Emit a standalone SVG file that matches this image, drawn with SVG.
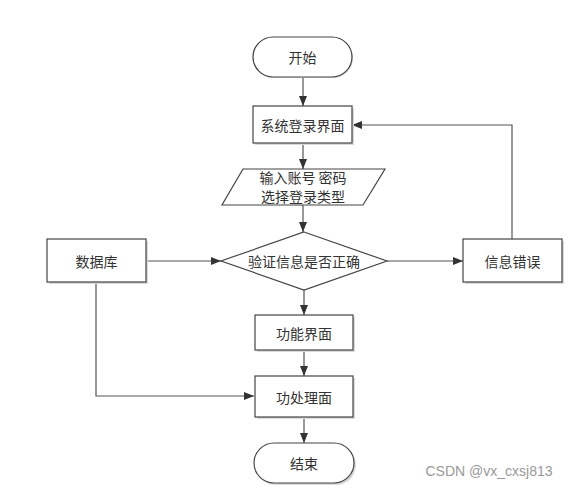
<svg xmlns="http://www.w3.org/2000/svg" width="574" height="489" viewBox="0 0 574 489">
<style>
.s{fill:#fff;stroke:#444;stroke-width:1.2}
.sh{fill:#d9d9d9;stroke:none}
.t{font-family:"Noto Sans CJK SC","Noto Sans",sans-serif;font-size:14px;fill:#333;text-anchor:middle;dominant-baseline:central}
.c{fill:none;stroke:#555;stroke-width:1.2}
</style>
<defs>
<marker id="a" markerWidth="10" markerHeight="8" refX="10" refY="4" orient="auto" markerUnits="userSpaceOnUse">
<path d="M0,0 L10,4 L0,8 Z" fill="#333"/>
</marker>
</defs>
<rect width="574" height="489" fill="#fff"/>
<g id="connectors">
<line class="c" x1="303" y1="77" x2="303" y2="106" marker-end="url(#a)"/>
<line class="c" x1="303" y1="143" x2="303" y2="169" marker-end="url(#a)"/>
<line class="c" x1="303" y1="205" x2="303" y2="232" marker-end="url(#a)"/>
<line class="c" x1="146" y1="261" x2="221" y2="261" marker-end="url(#a)"/>
<line class="c" x1="387" y1="261" x2="463" y2="261" marker-end="url(#a)"/>
<polyline class="c" points="512,239 512,125 352,125" marker-end="url(#a)"/>
<line class="c" x1="304" y1="290" x2="304" y2="315" marker-end="url(#a)"/>
<line class="c" x1="304" y1="350" x2="304" y2="376" marker-end="url(#a)"/>
<polyline class="c" points="96,282 96,396 254,396" marker-end="url(#a)"/>
<line class="c" x1="304" y1="417" x2="304" y2="443" marker-end="url(#a)"/>
</g>
<g id="start">
<rect class="sh" x="255" y="39" width="98" height="39" rx="19.5"/>
<rect class="s" x="253" y="37" width="99" height="40" rx="20"/>
<text class="t" x="302.5" y="57">开始</text>
</g>
<g id="login">
<rect class="sh" x="255" y="108" width="99" height="37"/>
<rect class="s" x="253" y="106" width="99" height="37"/>
<text class="t" x="302.5" y="124.5">系统登录界面</text>
</g>
<g id="input">
<polygon class="s" points="243,169 385,169 363,205 222,205"/>
<text class="t" x="303" y="177">输入账号 密码</text>
<text class="t" x="303" y="196">选择登录类型</text>
</g>
<g id="verify">
<polygon class="s" points="304,232 387,261 304,290 221,261"/>
<text class="t" x="304" y="261">验证信息是否正确</text>
</g>
<g id="db">
<rect class="sh" x="49" y="241" width="99" height="43"/>
<rect class="s" x="47" y="239" width="99" height="43"/>
<text class="t" x="96.5" y="260.5">数据库</text>
</g>
<g id="error">
<rect class="sh" x="465" y="241" width="99" height="43"/>
<rect class="s" x="463" y="239" width="99" height="43"/>
<text class="t" x="512.5" y="260.5">信息错误</text>
</g>
<g id="func">
<rect class="sh" x="257" y="317" width="98" height="35"/>
<rect class="s" x="255" y="315" width="98" height="35"/>
<text class="t" x="304" y="332.5">功能界面</text>
</g>
<g id="process">
<rect class="sh" x="257" y="378" width="98" height="41"/>
<rect class="s" x="255" y="376" width="98" height="41"/>
<text class="t" x="304" y="396.5">功处理面</text>
</g>
<g id="end">
<rect class="sh" x="256" y="445" width="100" height="40" rx="20"/>
<rect class="s" x="254" y="443" width="100" height="40" rx="20"/>
<text class="t" x="304" y="463">结束</text>
</g>
<text x="489" y="471" font-family="Liberation Sans,Arial,sans-serif" font-size="14" fill="#999" text-anchor="middle" dominant-baseline="central">CSDN @vx_cxsj813</text>
</svg>
